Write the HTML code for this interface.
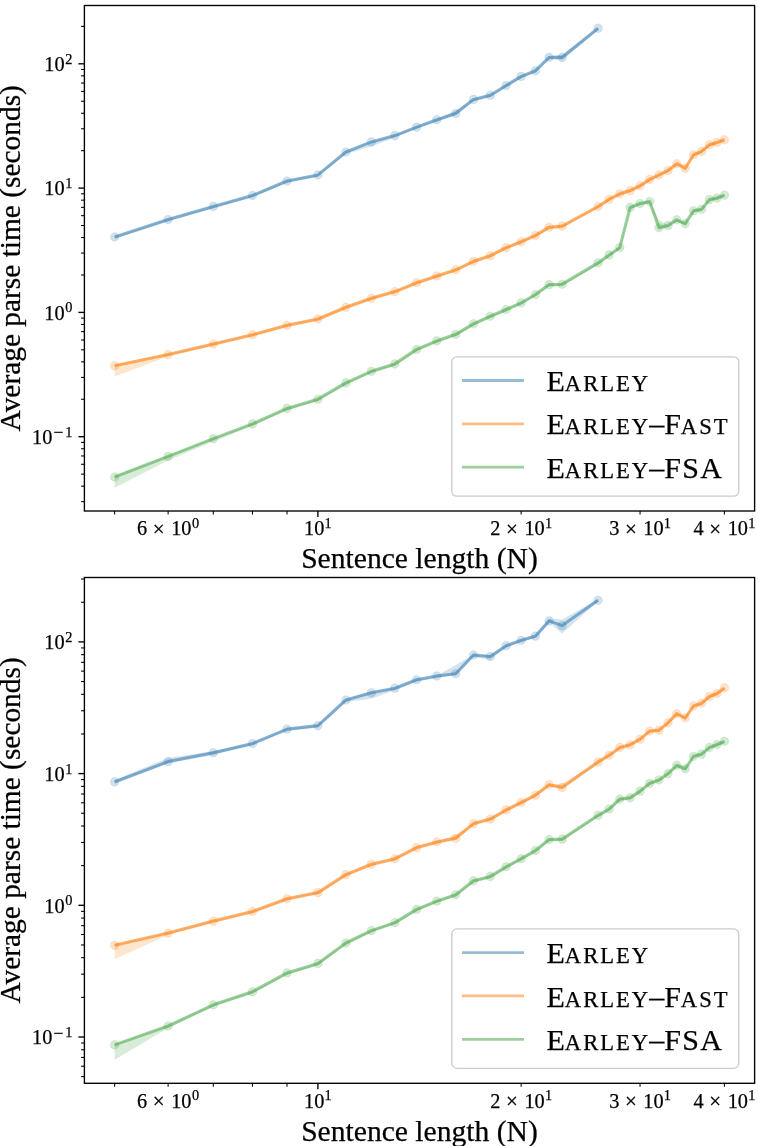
<!DOCTYPE html><html><head><meta charset="utf-8"><style>html,body{margin:0;padding:0;background:#fff;}svg{display:block;will-change:transform;font-family:"Liberation Serif",serif;}text{stroke:#000;stroke-width:0.25px;}</style></head><body>
<svg width="758" height="1146" viewBox="0 0 758 1146">
<rect x="0" y="0" width="758" height="1146" fill="#fff"/>
<clipPath id="c0"><rect x="84.4" y="5.5" width="670.2" height="505.5"/></clipPath>
<g clip-path="url(#c0)">
<polygon points="114.64,236.5 168.11,219 213.31,205.9 252.47,195 287,180.5 317.9,174.4 345.85,151.5 371.36,141.5 394.83,135.1 416.57,126.6 436.8,119.2 455.72,110.5 473.5,98.9 490.26,94.7 506.11,85 521.16,75.9 535.46,70.2 549.1,56.8 562.14,54.5 598.09,27.7 598.09,30.2 562.14,60.5 549.1,59.3 535.46,72.7 521.16,78.4 506.11,87.5 490.26,97.2 473.5,101.4 455.72,115 436.8,121.7 416.57,129.1 394.83,137.6 371.36,146.4 345.85,154 317.9,176.9 287,183 252.47,197.5 213.31,208.4 168.11,221.5 114.64,239" fill="#3079ae" fill-opacity="0.2" stroke="none"/>
<circle cx="114.64" cy="237" r="4.3" fill="#3079ae" fill-opacity="0.22" stroke="#3079ae" stroke-opacity="0.12" stroke-width="1"/>
<circle cx="168.11" cy="219.5" r="4.3" fill="#3079ae" fill-opacity="0.22" stroke="#3079ae" stroke-opacity="0.12" stroke-width="1"/>
<circle cx="213.31" cy="206.4" r="4.3" fill="#3079ae" fill-opacity="0.22" stroke="#3079ae" stroke-opacity="0.12" stroke-width="1"/>
<circle cx="252.47" cy="195.5" r="4.3" fill="#3079ae" fill-opacity="0.22" stroke="#3079ae" stroke-opacity="0.12" stroke-width="1"/>
<circle cx="287" cy="181" r="4.3" fill="#3079ae" fill-opacity="0.22" stroke="#3079ae" stroke-opacity="0.12" stroke-width="1"/>
<circle cx="317.9" cy="174.9" r="4.3" fill="#3079ae" fill-opacity="0.22" stroke="#3079ae" stroke-opacity="0.12" stroke-width="1"/>
<circle cx="345.85" cy="152" r="4.3" fill="#3079ae" fill-opacity="0.22" stroke="#3079ae" stroke-opacity="0.12" stroke-width="1"/>
<circle cx="371.36" cy="141.9" r="4.3" fill="#3079ae" fill-opacity="0.22" stroke="#3079ae" stroke-opacity="0.12" stroke-width="1"/>
<circle cx="394.83" cy="135.6" r="4.3" fill="#3079ae" fill-opacity="0.22" stroke="#3079ae" stroke-opacity="0.12" stroke-width="1"/>
<circle cx="416.57" cy="127.1" r="4.3" fill="#3079ae" fill-opacity="0.22" stroke="#3079ae" stroke-opacity="0.12" stroke-width="1"/>
<circle cx="436.8" cy="119.7" r="4.3" fill="#3079ae" fill-opacity="0.22" stroke="#3079ae" stroke-opacity="0.12" stroke-width="1"/>
<circle cx="455.72" cy="113.5" r="4.3" fill="#3079ae" fill-opacity="0.22" stroke="#3079ae" stroke-opacity="0.12" stroke-width="1"/>
<circle cx="473.5" cy="99.4" r="4.3" fill="#3079ae" fill-opacity="0.22" stroke="#3079ae" stroke-opacity="0.12" stroke-width="1"/>
<circle cx="490.26" cy="95.2" r="4.3" fill="#3079ae" fill-opacity="0.22" stroke="#3079ae" stroke-opacity="0.12" stroke-width="1"/>
<circle cx="506.11" cy="85.5" r="4.3" fill="#3079ae" fill-opacity="0.22" stroke="#3079ae" stroke-opacity="0.12" stroke-width="1"/>
<circle cx="521.16" cy="76.4" r="4.3" fill="#3079ae" fill-opacity="0.22" stroke="#3079ae" stroke-opacity="0.12" stroke-width="1"/>
<circle cx="535.46" cy="70.7" r="4.3" fill="#3079ae" fill-opacity="0.22" stroke="#3079ae" stroke-opacity="0.12" stroke-width="1"/>
<circle cx="549.1" cy="57.3" r="4.3" fill="#3079ae" fill-opacity="0.22" stroke="#3079ae" stroke-opacity="0.12" stroke-width="1"/>
<circle cx="562.14" cy="57.4" r="4.3" fill="#3079ae" fill-opacity="0.22" stroke="#3079ae" stroke-opacity="0.12" stroke-width="1"/>
<circle cx="598.09" cy="28.2" r="4.3" fill="#3079ae" fill-opacity="0.22" stroke="#3079ae" stroke-opacity="0.12" stroke-width="1"/>
<polyline points="114.64,237 168.11,219.5 213.31,206.4 252.47,195.5 287,181 317.9,174.9 345.85,152 371.36,141.9 394.83,135.6 416.57,127.1 436.8,119.7 455.72,113.5 473.5,99.4 490.26,95.2 506.11,85.5 521.16,76.4 535.46,70.7 549.1,57.3 562.14,57.4 598.09,28.2" fill="none" stroke="#3079ae" stroke-opacity="0.56" stroke-width="3.1" stroke-linejoin="round" stroke-linecap="butt"/>
<polygon points="114.64,365 168.11,354.1 213.31,343.5 252.47,334.3 287,324.7 317.9,318.5 345.85,306.7 371.36,297.7 394.83,291.1 416.57,282.2 436.8,275.5 455.72,269.3 473.5,260.8 490.26,255.2 506.11,247.1 521.16,241.2 535.46,234.9 549.1,226.7 562.14,225.6 598.09,206 609.16,198.7 619.82,193.3 630.11,190.1 640.05,185.2 649.67,178.9 658.98,174.4 668,170 676.75,163.2 685.25,167.7 693.52,154.3 701.55,150.9 709.37,144.2 716.99,141.9 724.41,139.2 724.41,141.7 716.99,144.4 709.37,146.7 701.55,153.4 693.52,156.8 685.25,170.2 676.75,165.7 668,172.5 658.98,176.9 649.67,181.4 640.05,187.7 630.11,192.6 619.82,195.8 609.16,201.2 598.09,208.5 562.14,228.1 549.1,229.2 535.46,237.4 521.16,243.7 506.11,249.6 490.26,257.7 473.5,263.3 455.72,271.8 436.8,278 416.57,284.7 394.83,293.6 371.36,300.2 345.85,309.2 317.9,321 287,327.2 252.47,336.8 213.31,346 168.11,356.6 114.64,376.5" fill="#fb7d0c" fill-opacity="0.2" stroke="none"/>
<circle cx="114.64" cy="365.8" r="4.3" fill="#fb7d0c" fill-opacity="0.22" stroke="#fb7d0c" stroke-opacity="0.12" stroke-width="1"/>
<circle cx="168.11" cy="354.6" r="4.3" fill="#fb7d0c" fill-opacity="0.22" stroke="#fb7d0c" stroke-opacity="0.12" stroke-width="1"/>
<circle cx="213.31" cy="344" r="4.3" fill="#fb7d0c" fill-opacity="0.22" stroke="#fb7d0c" stroke-opacity="0.12" stroke-width="1"/>
<circle cx="252.47" cy="334.8" r="4.3" fill="#fb7d0c" fill-opacity="0.22" stroke="#fb7d0c" stroke-opacity="0.12" stroke-width="1"/>
<circle cx="287" cy="325.2" r="4.3" fill="#fb7d0c" fill-opacity="0.22" stroke="#fb7d0c" stroke-opacity="0.12" stroke-width="1"/>
<circle cx="317.9" cy="319" r="4.3" fill="#fb7d0c" fill-opacity="0.22" stroke="#fb7d0c" stroke-opacity="0.12" stroke-width="1"/>
<circle cx="345.85" cy="307.2" r="4.3" fill="#fb7d0c" fill-opacity="0.22" stroke="#fb7d0c" stroke-opacity="0.12" stroke-width="1"/>
<circle cx="371.36" cy="298.2" r="4.3" fill="#fb7d0c" fill-opacity="0.22" stroke="#fb7d0c" stroke-opacity="0.12" stroke-width="1"/>
<circle cx="394.83" cy="291.6" r="4.3" fill="#fb7d0c" fill-opacity="0.22" stroke="#fb7d0c" stroke-opacity="0.12" stroke-width="1"/>
<circle cx="416.57" cy="282.7" r="4.3" fill="#fb7d0c" fill-opacity="0.22" stroke="#fb7d0c" stroke-opacity="0.12" stroke-width="1"/>
<circle cx="436.8" cy="276" r="4.3" fill="#fb7d0c" fill-opacity="0.22" stroke="#fb7d0c" stroke-opacity="0.12" stroke-width="1"/>
<circle cx="455.72" cy="269.8" r="4.3" fill="#fb7d0c" fill-opacity="0.22" stroke="#fb7d0c" stroke-opacity="0.12" stroke-width="1"/>
<circle cx="473.5" cy="261.3" r="4.3" fill="#fb7d0c" fill-opacity="0.22" stroke="#fb7d0c" stroke-opacity="0.12" stroke-width="1"/>
<circle cx="490.26" cy="255.7" r="4.3" fill="#fb7d0c" fill-opacity="0.22" stroke="#fb7d0c" stroke-opacity="0.12" stroke-width="1"/>
<circle cx="506.11" cy="247.6" r="4.3" fill="#fb7d0c" fill-opacity="0.22" stroke="#fb7d0c" stroke-opacity="0.12" stroke-width="1"/>
<circle cx="521.16" cy="241.7" r="4.3" fill="#fb7d0c" fill-opacity="0.22" stroke="#fb7d0c" stroke-opacity="0.12" stroke-width="1"/>
<circle cx="535.46" cy="235.4" r="4.3" fill="#fb7d0c" fill-opacity="0.22" stroke="#fb7d0c" stroke-opacity="0.12" stroke-width="1"/>
<circle cx="549.1" cy="227.2" r="4.3" fill="#fb7d0c" fill-opacity="0.22" stroke="#fb7d0c" stroke-opacity="0.12" stroke-width="1"/>
<circle cx="562.14" cy="226.1" r="4.3" fill="#fb7d0c" fill-opacity="0.22" stroke="#fb7d0c" stroke-opacity="0.12" stroke-width="1"/>
<circle cx="598.09" cy="206.5" r="4.3" fill="#fb7d0c" fill-opacity="0.22" stroke="#fb7d0c" stroke-opacity="0.12" stroke-width="1"/>
<circle cx="609.16" cy="199.2" r="4.3" fill="#fb7d0c" fill-opacity="0.22" stroke="#fb7d0c" stroke-opacity="0.12" stroke-width="1"/>
<circle cx="619.82" cy="193.8" r="4.3" fill="#fb7d0c" fill-opacity="0.22" stroke="#fb7d0c" stroke-opacity="0.12" stroke-width="1"/>
<circle cx="630.11" cy="190.6" r="4.3" fill="#fb7d0c" fill-opacity="0.22" stroke="#fb7d0c" stroke-opacity="0.12" stroke-width="1"/>
<circle cx="640.05" cy="185.7" r="4.3" fill="#fb7d0c" fill-opacity="0.22" stroke="#fb7d0c" stroke-opacity="0.12" stroke-width="1"/>
<circle cx="649.67" cy="179.4" r="4.3" fill="#fb7d0c" fill-opacity="0.22" stroke="#fb7d0c" stroke-opacity="0.12" stroke-width="1"/>
<circle cx="658.98" cy="174.9" r="4.3" fill="#fb7d0c" fill-opacity="0.22" stroke="#fb7d0c" stroke-opacity="0.12" stroke-width="1"/>
<circle cx="668" cy="170.5" r="4.3" fill="#fb7d0c" fill-opacity="0.22" stroke="#fb7d0c" stroke-opacity="0.12" stroke-width="1"/>
<circle cx="676.75" cy="163.7" r="4.3" fill="#fb7d0c" fill-opacity="0.22" stroke="#fb7d0c" stroke-opacity="0.12" stroke-width="1"/>
<circle cx="685.25" cy="168.2" r="4.3" fill="#fb7d0c" fill-opacity="0.22" stroke="#fb7d0c" stroke-opacity="0.12" stroke-width="1"/>
<circle cx="693.52" cy="154.8" r="4.3" fill="#fb7d0c" fill-opacity="0.22" stroke="#fb7d0c" stroke-opacity="0.12" stroke-width="1"/>
<circle cx="701.55" cy="151.4" r="4.3" fill="#fb7d0c" fill-opacity="0.22" stroke="#fb7d0c" stroke-opacity="0.12" stroke-width="1"/>
<circle cx="709.37" cy="144.7" r="4.3" fill="#fb7d0c" fill-opacity="0.22" stroke="#fb7d0c" stroke-opacity="0.12" stroke-width="1"/>
<circle cx="716.99" cy="142.4" r="4.3" fill="#fb7d0c" fill-opacity="0.22" stroke="#fb7d0c" stroke-opacity="0.12" stroke-width="1"/>
<circle cx="724.41" cy="139.7" r="4.3" fill="#fb7d0c" fill-opacity="0.22" stroke="#fb7d0c" stroke-opacity="0.12" stroke-width="1"/>
<polyline points="114.64,365.8 168.11,354.6 213.31,344 252.47,334.8 287,325.2 317.9,319 345.85,307.2 371.36,298.2 394.83,291.6 416.57,282.7 436.8,276 455.72,269.8 473.5,261.3 490.26,255.7 506.11,247.6 521.16,241.7 535.46,235.4 549.1,227.2 562.14,226.1 598.09,206.5 609.16,199.2 619.82,193.8 630.11,190.6 640.05,185.7 649.67,179.4 658.98,174.9 668,170.5 676.75,163.7 685.25,168.2 693.52,154.8 701.55,151.4 709.37,144.7 716.99,142.4 724.41,139.7" fill="none" stroke="#fb7d0c" stroke-opacity="0.6" stroke-width="3.1" stroke-linejoin="round" stroke-linecap="butt"/>
<polygon points="114.64,476 168.11,455.5 213.31,438.3 252.47,423.4 287,407.9 317.9,398.7 345.85,382.4 371.36,370.8 394.83,363.4 416.57,348.9 436.8,340.4 455.72,333.8 473.5,323.3 490.26,315.7 506.11,309 521.16,302.3 535.46,294 549.1,284.1 562.14,283.7 598.09,262.4 609.16,254.4 619.82,247 630.11,206.9 640.05,203 649.67,201 658.98,220 668,224.9 676.75,219.3 685.25,223.1 693.52,210.3 701.55,208.8 709.37,199.1 716.99,197.5 724.41,194.6 724.41,197.1 716.99,200 709.37,201.6 701.55,211.3 693.52,212.8 685.25,225.6 676.75,221.8 668,227.4 658.98,229 649.67,203.5 640.05,205.5 630.11,209.4 619.82,249.5 609.16,256.9 598.09,264.9 562.14,286.2 549.1,286.6 535.46,296.5 521.16,304.8 506.11,311.5 490.26,318.2 473.5,325.8 455.72,336.3 436.8,342.9 416.57,351.4 394.83,365.9 371.36,373.3 345.85,384.9 317.9,401.2 287,410.4 252.47,425.9 213.31,441.5 168.11,460.4 114.64,487.8" fill="#3aa03b" fill-opacity="0.2" stroke="none"/>
<circle cx="114.64" cy="477" r="4.3" fill="#3aa03b" fill-opacity="0.22" stroke="#3aa03b" stroke-opacity="0.12" stroke-width="1"/>
<circle cx="168.11" cy="456.4" r="4.3" fill="#3aa03b" fill-opacity="0.22" stroke="#3aa03b" stroke-opacity="0.12" stroke-width="1"/>
<circle cx="213.31" cy="438.6" r="4.3" fill="#3aa03b" fill-opacity="0.22" stroke="#3aa03b" stroke-opacity="0.12" stroke-width="1"/>
<circle cx="252.47" cy="423.9" r="4.3" fill="#3aa03b" fill-opacity="0.22" stroke="#3aa03b" stroke-opacity="0.12" stroke-width="1"/>
<circle cx="287" cy="408.4" r="4.3" fill="#3aa03b" fill-opacity="0.22" stroke="#3aa03b" stroke-opacity="0.12" stroke-width="1"/>
<circle cx="317.9" cy="399.2" r="4.3" fill="#3aa03b" fill-opacity="0.22" stroke="#3aa03b" stroke-opacity="0.12" stroke-width="1"/>
<circle cx="345.85" cy="382.9" r="4.3" fill="#3aa03b" fill-opacity="0.22" stroke="#3aa03b" stroke-opacity="0.12" stroke-width="1"/>
<circle cx="371.36" cy="371.3" r="4.3" fill="#3aa03b" fill-opacity="0.22" stroke="#3aa03b" stroke-opacity="0.12" stroke-width="1"/>
<circle cx="394.83" cy="363.9" r="4.3" fill="#3aa03b" fill-opacity="0.22" stroke="#3aa03b" stroke-opacity="0.12" stroke-width="1"/>
<circle cx="416.57" cy="349.4" r="4.3" fill="#3aa03b" fill-opacity="0.22" stroke="#3aa03b" stroke-opacity="0.12" stroke-width="1"/>
<circle cx="436.8" cy="340.9" r="4.3" fill="#3aa03b" fill-opacity="0.22" stroke="#3aa03b" stroke-opacity="0.12" stroke-width="1"/>
<circle cx="455.72" cy="334.3" r="4.3" fill="#3aa03b" fill-opacity="0.22" stroke="#3aa03b" stroke-opacity="0.12" stroke-width="1"/>
<circle cx="473.5" cy="323.8" r="4.3" fill="#3aa03b" fill-opacity="0.22" stroke="#3aa03b" stroke-opacity="0.12" stroke-width="1"/>
<circle cx="490.26" cy="316.2" r="4.3" fill="#3aa03b" fill-opacity="0.22" stroke="#3aa03b" stroke-opacity="0.12" stroke-width="1"/>
<circle cx="506.11" cy="309.5" r="4.3" fill="#3aa03b" fill-opacity="0.22" stroke="#3aa03b" stroke-opacity="0.12" stroke-width="1"/>
<circle cx="521.16" cy="302.8" r="4.3" fill="#3aa03b" fill-opacity="0.22" stroke="#3aa03b" stroke-opacity="0.12" stroke-width="1"/>
<circle cx="535.46" cy="294.5" r="4.3" fill="#3aa03b" fill-opacity="0.22" stroke="#3aa03b" stroke-opacity="0.12" stroke-width="1"/>
<circle cx="549.1" cy="284.6" r="4.3" fill="#3aa03b" fill-opacity="0.22" stroke="#3aa03b" stroke-opacity="0.12" stroke-width="1"/>
<circle cx="562.14" cy="284.2" r="4.3" fill="#3aa03b" fill-opacity="0.22" stroke="#3aa03b" stroke-opacity="0.12" stroke-width="1"/>
<circle cx="598.09" cy="262.9" r="4.3" fill="#3aa03b" fill-opacity="0.22" stroke="#3aa03b" stroke-opacity="0.12" stroke-width="1"/>
<circle cx="609.16" cy="254.9" r="4.3" fill="#3aa03b" fill-opacity="0.22" stroke="#3aa03b" stroke-opacity="0.12" stroke-width="1"/>
<circle cx="619.82" cy="247.5" r="4.3" fill="#3aa03b" fill-opacity="0.22" stroke="#3aa03b" stroke-opacity="0.12" stroke-width="1"/>
<circle cx="630.11" cy="207.4" r="4.3" fill="#3aa03b" fill-opacity="0.22" stroke="#3aa03b" stroke-opacity="0.12" stroke-width="1"/>
<circle cx="640.05" cy="203.5" r="4.3" fill="#3aa03b" fill-opacity="0.22" stroke="#3aa03b" stroke-opacity="0.12" stroke-width="1"/>
<circle cx="649.67" cy="201.5" r="4.3" fill="#3aa03b" fill-opacity="0.22" stroke="#3aa03b" stroke-opacity="0.12" stroke-width="1"/>
<circle cx="658.98" cy="227.8" r="4.3" fill="#3aa03b" fill-opacity="0.22" stroke="#3aa03b" stroke-opacity="0.12" stroke-width="1"/>
<circle cx="668" cy="225.4" r="4.3" fill="#3aa03b" fill-opacity="0.22" stroke="#3aa03b" stroke-opacity="0.12" stroke-width="1"/>
<circle cx="676.75" cy="219.8" r="4.3" fill="#3aa03b" fill-opacity="0.22" stroke="#3aa03b" stroke-opacity="0.12" stroke-width="1"/>
<circle cx="685.25" cy="223.6" r="4.3" fill="#3aa03b" fill-opacity="0.22" stroke="#3aa03b" stroke-opacity="0.12" stroke-width="1"/>
<circle cx="693.52" cy="210.8" r="4.3" fill="#3aa03b" fill-opacity="0.22" stroke="#3aa03b" stroke-opacity="0.12" stroke-width="1"/>
<circle cx="701.55" cy="209.3" r="4.3" fill="#3aa03b" fill-opacity="0.22" stroke="#3aa03b" stroke-opacity="0.12" stroke-width="1"/>
<circle cx="709.37" cy="199.6" r="4.3" fill="#3aa03b" fill-opacity="0.22" stroke="#3aa03b" stroke-opacity="0.12" stroke-width="1"/>
<circle cx="716.99" cy="198" r="4.3" fill="#3aa03b" fill-opacity="0.22" stroke="#3aa03b" stroke-opacity="0.12" stroke-width="1"/>
<circle cx="724.41" cy="195.1" r="4.3" fill="#3aa03b" fill-opacity="0.22" stroke="#3aa03b" stroke-opacity="0.12" stroke-width="1"/>
<polyline points="114.64,477 168.11,456.4 213.31,438.6 252.47,423.9 287,408.4 317.9,399.2 345.85,382.9 371.36,371.3 394.83,363.9 416.57,349.4 436.8,340.9 455.72,334.3 473.5,323.8 490.26,316.2 506.11,309.5 521.16,302.8 535.46,294.5 549.1,284.6 562.14,284.2 598.09,262.9 609.16,254.9 619.82,247.5 630.11,207.4 640.05,203.5 649.67,201.5 658.98,227.8 668,225.4 676.75,219.8 685.25,223.6 693.52,210.8 701.55,209.3 709.37,199.6 716.99,198 724.41,195.1" fill="none" stroke="#3aa03b" stroke-opacity="0.5" stroke-width="3.1" stroke-linejoin="round" stroke-linecap="butt"/>
</g>
<rect x="451.8" y="356.8" width="286.99999999999994" height="139.39999999999998" rx="5" ry="5" fill="#fff" fill-opacity="0.8" stroke="#cccccc" stroke-width="1.3"/>
<line x1="462" y1="380.5" x2="524" y2="380.5" stroke="#3079ae" stroke-opacity="0.5" stroke-width="2.8"/>
<text x="546.5" y="390.8" font-size="30"><tspan>E</tspan><tspan font-size="22.6" letter-spacing="2.0">ARLEY</tspan></text>
<line x1="462" y1="423.85" x2="524" y2="423.85" stroke="#fb7d0c" stroke-opacity="0.5" stroke-width="2.8"/>
<text x="546.5" y="434.4" font-size="30"><tspan>E</tspan><tspan font-size="22.6" letter-spacing="2.0">ARLEY</tspan><tspan dx="-1">–</tspan><tspan>F</tspan><tspan font-size="22.6" letter-spacing="2.0" letter-spacing="2.6">AST</tspan></text>
<line x1="462" y1="467.2" x2="524" y2="467.2" stroke="#3aa03b" stroke-opacity="0.5" stroke-width="2.8"/>
<text x="546.5" y="478" font-size="30"><tspan>E</tspan><tspan font-size="22.6" letter-spacing="2.0">ARLEY</tspan><tspan dx="-1">–</tspan><tspan letter-spacing="1.4">FSA</tspan></text>
<rect x="84.4" y="5.5" width="670.2" height="505.5" fill="none" stroke="#000" stroke-width="1.35"/>
<line x1="114.64" y1="511.0" x2="114.64" y2="514.4" stroke="#000" stroke-width="1.05"/>
<line x1="168.11" y1="511.0" x2="168.11" y2="514.4" stroke="#000" stroke-width="1.05"/>
<line x1="213.31" y1="511.0" x2="213.31" y2="514.4" stroke="#000" stroke-width="1.05"/>
<line x1="252.47" y1="511.0" x2="252.47" y2="514.4" stroke="#000" stroke-width="1.05"/>
<line x1="287" y1="511.0" x2="287" y2="514.4" stroke="#000" stroke-width="1.05"/>
<line x1="521.16" y1="511.0" x2="521.16" y2="514.4" stroke="#000" stroke-width="1.05"/>
<line x1="640.05" y1="511.0" x2="640.05" y2="514.4" stroke="#000" stroke-width="1.05"/>
<line x1="724.41" y1="511.0" x2="724.41" y2="514.4" stroke="#000" stroke-width="1.05"/>
<line x1="317.9" y1="511.0" x2="317.9" y2="517" stroke="#000" stroke-width="1.35"/>
<line x1="81" y1="501.69" x2="84.4" y2="501.69" stroke="#000" stroke-width="1.05"/>
<line x1="81" y1="486.16" x2="84.4" y2="486.16" stroke="#000" stroke-width="1.05"/>
<line x1="81" y1="474.12" x2="84.4" y2="474.12" stroke="#000" stroke-width="1.05"/>
<line x1="81" y1="464.28" x2="84.4" y2="464.28" stroke="#000" stroke-width="1.05"/>
<line x1="81" y1="455.95" x2="84.4" y2="455.95" stroke="#000" stroke-width="1.05"/>
<line x1="81" y1="448.75" x2="84.4" y2="448.75" stroke="#000" stroke-width="1.05"/>
<line x1="81" y1="442.39" x2="84.4" y2="442.39" stroke="#000" stroke-width="1.05"/>
<line x1="78.4" y1="436.7" x2="84.4" y2="436.7" stroke="#000" stroke-width="1.35"/>
<line x1="81" y1="399.28" x2="84.4" y2="399.28" stroke="#000" stroke-width="1.05"/>
<line x1="81" y1="377.39" x2="84.4" y2="377.39" stroke="#000" stroke-width="1.05"/>
<line x1="81" y1="361.86" x2="84.4" y2="361.86" stroke="#000" stroke-width="1.05"/>
<line x1="81" y1="349.82" x2="84.4" y2="349.82" stroke="#000" stroke-width="1.05"/>
<line x1="81" y1="339.98" x2="84.4" y2="339.98" stroke="#000" stroke-width="1.05"/>
<line x1="81" y1="331.65" x2="84.4" y2="331.65" stroke="#000" stroke-width="1.05"/>
<line x1="81" y1="324.45" x2="84.4" y2="324.45" stroke="#000" stroke-width="1.05"/>
<line x1="81" y1="318.09" x2="84.4" y2="318.09" stroke="#000" stroke-width="1.05"/>
<line x1="78.4" y1="312.4" x2="84.4" y2="312.4" stroke="#000" stroke-width="1.35"/>
<line x1="81" y1="274.98" x2="84.4" y2="274.98" stroke="#000" stroke-width="1.05"/>
<line x1="81" y1="253.09" x2="84.4" y2="253.09" stroke="#000" stroke-width="1.05"/>
<line x1="81" y1="237.56" x2="84.4" y2="237.56" stroke="#000" stroke-width="1.05"/>
<line x1="81" y1="225.52" x2="84.4" y2="225.52" stroke="#000" stroke-width="1.05"/>
<line x1="81" y1="215.68" x2="84.4" y2="215.68" stroke="#000" stroke-width="1.05"/>
<line x1="81" y1="207.35" x2="84.4" y2="207.35" stroke="#000" stroke-width="1.05"/>
<line x1="81" y1="200.15" x2="84.4" y2="200.15" stroke="#000" stroke-width="1.05"/>
<line x1="81" y1="193.79" x2="84.4" y2="193.79" stroke="#000" stroke-width="1.05"/>
<line x1="78.4" y1="188.1" x2="84.4" y2="188.1" stroke="#000" stroke-width="1.35"/>
<line x1="81" y1="150.68" x2="84.4" y2="150.68" stroke="#000" stroke-width="1.05"/>
<line x1="81" y1="128.79" x2="84.4" y2="128.79" stroke="#000" stroke-width="1.05"/>
<line x1="81" y1="113.26" x2="84.4" y2="113.26" stroke="#000" stroke-width="1.05"/>
<line x1="81" y1="101.22" x2="84.4" y2="101.22" stroke="#000" stroke-width="1.05"/>
<line x1="81" y1="91.38" x2="84.4" y2="91.38" stroke="#000" stroke-width="1.05"/>
<line x1="81" y1="83.05" x2="84.4" y2="83.05" stroke="#000" stroke-width="1.05"/>
<line x1="81" y1="75.85" x2="84.4" y2="75.85" stroke="#000" stroke-width="1.05"/>
<line x1="81" y1="69.49" x2="84.4" y2="69.49" stroke="#000" stroke-width="1.05"/>
<line x1="78.4" y1="63.8" x2="84.4" y2="63.8" stroke="#000" stroke-width="1.35"/>
<line x1="81" y1="26.38" x2="84.4" y2="26.38" stroke="#000" stroke-width="1.05"/>
<text x="72.3" y="444" font-size="20.3" text-anchor="end">10<tspan font-size="17.5" dy="-5.6" dx="1.2">−</tspan><tspan font-size="14.3" dx="1.8" dy="-1.8">1</tspan></text>
<text x="72.3" y="319.7" font-size="20.3" text-anchor="end">10<tspan font-size="14.3" dy="-7.4" dx="0.6">0</tspan></text>
<text x="72.3" y="195.4" font-size="20.3" text-anchor="end">10<tspan font-size="14.3" dy="-7.4" dx="0.6">1</tspan></text>
<text x="72.3" y="71.1" font-size="20.3" text-anchor="end">10<tspan font-size="14.3" dy="-7.4" dx="0.6">2</tspan></text>
<text x="168.11" y="535.2" font-size="20.3" text-anchor="middle">6<tspan dx="5.6" font-size="21" dy="0.6">×</tspan><tspan dx="6.6" dy="-0.6">10</tspan><tspan font-size="14.3" dy="-7.4" dx="0.6">0</tspan></text>
<text x="317.9" y="535.2" font-size="20.3" text-anchor="middle">10<tspan font-size="14.3" dy="-7.4" dx="0.2">1</tspan></text>
<text x="521.16" y="535.2" font-size="20.3" text-anchor="middle">2<tspan dx="5.6" font-size="21" dy="0.6">×</tspan><tspan dx="6.6" dy="-0.6">10</tspan><tspan font-size="14.3" dy="-7.4" dx="0.2">1</tspan></text>
<text x="640.05" y="535.2" font-size="20.3" text-anchor="middle">3<tspan dx="5.6" font-size="21" dy="0.6">×</tspan><tspan dx="6.6" dy="-0.6">10</tspan><tspan font-size="14.3" dy="-7.4" dx="0.2">1</tspan></text>
<text x="724.41" y="535.2" font-size="20.3" text-anchor="middle">4<tspan dx="5.6" font-size="21" dy="0.6">×</tspan><tspan dx="6.6" dy="-0.6">10</tspan><tspan font-size="14.3" dy="-7.4" dx="0.2">1</tspan></text>
<text x="419.5" y="568.3" font-size="29.6" text-anchor="middle">Sentence length (N)</text>
<text transform="translate(19.8,258.25) rotate(-90)" x="0" y="0" font-size="29.4" text-anchor="middle">Average parse time (seconds)</text>
<clipPath id="c1"><rect x="84.4" y="577.5" width="670.2" height="505.79999999999995"/></clipPath>
<g clip-path="url(#c1)">
<polygon points="114.64,780 168.11,758 213.31,751 252.47,743 287,728.6 317.9,725.1 345.85,699.5 371.36,691.5 394.83,687.7 416.57,679.2 436.8,675.5 455.72,665 473.5,654.5 490.26,655 506.11,645.2 521.16,639.8 535.46,635.6 549.1,618.5 562.14,619.6 598.09,599 598.09,601.5 562.14,633.4 549.1,622.5 535.46,638.1 521.16,642.3 506.11,647.7 490.26,659.8 473.5,657 455.72,675 436.8,678 416.57,681.7 394.83,690.2 371.36,698.8 345.85,702 317.9,727.6 287,731.1 252.47,745.5 213.31,755 168.11,763.5 114.64,784" fill="#3079ae" fill-opacity="0.2" stroke="none"/>
<circle cx="114.64" cy="781.9" r="4.3" fill="#3079ae" fill-opacity="0.22" stroke="#3079ae" stroke-opacity="0.12" stroke-width="1"/>
<circle cx="168.11" cy="761.6" r="4.3" fill="#3079ae" fill-opacity="0.22" stroke="#3079ae" stroke-opacity="0.12" stroke-width="1"/>
<circle cx="213.31" cy="752.7" r="4.3" fill="#3079ae" fill-opacity="0.22" stroke="#3079ae" stroke-opacity="0.12" stroke-width="1"/>
<circle cx="252.47" cy="743.5" r="4.3" fill="#3079ae" fill-opacity="0.22" stroke="#3079ae" stroke-opacity="0.12" stroke-width="1"/>
<circle cx="287" cy="729.1" r="4.3" fill="#3079ae" fill-opacity="0.22" stroke="#3079ae" stroke-opacity="0.12" stroke-width="1"/>
<circle cx="317.9" cy="725.6" r="4.3" fill="#3079ae" fill-opacity="0.22" stroke="#3079ae" stroke-opacity="0.12" stroke-width="1"/>
<circle cx="345.85" cy="700" r="4.3" fill="#3079ae" fill-opacity="0.22" stroke="#3079ae" stroke-opacity="0.12" stroke-width="1"/>
<circle cx="371.36" cy="692.7" r="4.3" fill="#3079ae" fill-opacity="0.22" stroke="#3079ae" stroke-opacity="0.12" stroke-width="1"/>
<circle cx="394.83" cy="688.2" r="4.3" fill="#3079ae" fill-opacity="0.22" stroke="#3079ae" stroke-opacity="0.12" stroke-width="1"/>
<circle cx="416.57" cy="679.7" r="4.3" fill="#3079ae" fill-opacity="0.22" stroke="#3079ae" stroke-opacity="0.12" stroke-width="1"/>
<circle cx="436.8" cy="676" r="4.3" fill="#3079ae" fill-opacity="0.22" stroke="#3079ae" stroke-opacity="0.12" stroke-width="1"/>
<circle cx="455.72" cy="673.8" r="4.3" fill="#3079ae" fill-opacity="0.22" stroke="#3079ae" stroke-opacity="0.12" stroke-width="1"/>
<circle cx="473.5" cy="655" r="4.3" fill="#3079ae" fill-opacity="0.22" stroke="#3079ae" stroke-opacity="0.12" stroke-width="1"/>
<circle cx="490.26" cy="656.5" r="4.3" fill="#3079ae" fill-opacity="0.22" stroke="#3079ae" stroke-opacity="0.12" stroke-width="1"/>
<circle cx="506.11" cy="645.7" r="4.3" fill="#3079ae" fill-opacity="0.22" stroke="#3079ae" stroke-opacity="0.12" stroke-width="1"/>
<circle cx="521.16" cy="640.3" r="4.3" fill="#3079ae" fill-opacity="0.22" stroke="#3079ae" stroke-opacity="0.12" stroke-width="1"/>
<circle cx="535.46" cy="636.1" r="4.3" fill="#3079ae" fill-opacity="0.22" stroke="#3079ae" stroke-opacity="0.12" stroke-width="1"/>
<circle cx="549.1" cy="620.9" r="4.3" fill="#3079ae" fill-opacity="0.22" stroke="#3079ae" stroke-opacity="0.12" stroke-width="1"/>
<circle cx="562.14" cy="625.6" r="4.3" fill="#3079ae" fill-opacity="0.22" stroke="#3079ae" stroke-opacity="0.12" stroke-width="1"/>
<circle cx="598.09" cy="600.3" r="4.3" fill="#3079ae" fill-opacity="0.22" stroke="#3079ae" stroke-opacity="0.12" stroke-width="1"/>
<polyline points="114.64,781.9 168.11,761.6 213.31,752.7 252.47,743.5 287,729.1 317.9,725.6 345.85,700 371.36,692.7 394.83,688.2 416.57,679.7 436.8,676 455.72,673.8 473.5,655 490.26,656.5 506.11,645.7 521.16,640.3 535.46,636.1 549.1,620.9 562.14,625.6 598.09,600.3" fill="none" stroke="#3079ae" stroke-opacity="0.56" stroke-width="3.1" stroke-linejoin="round" stroke-linecap="butt"/>
<polygon points="114.64,944.5 168.11,932.6 213.31,920.6 252.47,911 287,898.3 317.9,892.1 345.85,874.1 371.36,863.7 394.83,858.2 416.57,847.1 436.8,841.5 455.72,834.7 473.5,823.1 490.26,818.6 506.11,809.4 521.16,802 535.46,794.6 549.1,784.3 562.14,783.8 598.09,761.4 609.16,754.7 619.82,746.9 630.11,744.2 640.05,738.6 649.67,730.5 658.98,729.6 668,722.2 676.75,713.2 685.25,717.3 693.52,705.4 701.55,702.7 709.37,696 716.99,693 724.41,687.4 724.41,689.9 716.99,695.5 709.37,698.5 701.55,705.2 693.52,707.9 685.25,719.8 676.75,715.7 668,724.7 658.98,732.1 649.67,733 640.05,741.1 630.11,746.7 619.82,749.4 609.16,757.2 598.09,763.9 562.14,788.5 549.1,786.8 535.46,797.1 521.16,804.5 506.11,811.9 490.26,821.1 473.5,825.6 455.72,839.5 436.8,844 416.57,849.6 394.83,860.7 371.36,866.2 345.85,876.6 317.9,894.6 287,900.8 252.47,913.5 213.31,923.1 168.11,935.1 114.64,959" fill="#fb7d0c" fill-opacity="0.2" stroke="none"/>
<circle cx="114.64" cy="945.2" r="4.3" fill="#fb7d0c" fill-opacity="0.22" stroke="#fb7d0c" stroke-opacity="0.12" stroke-width="1"/>
<circle cx="168.11" cy="933.1" r="4.3" fill="#fb7d0c" fill-opacity="0.22" stroke="#fb7d0c" stroke-opacity="0.12" stroke-width="1"/>
<circle cx="213.31" cy="921.1" r="4.3" fill="#fb7d0c" fill-opacity="0.22" stroke="#fb7d0c" stroke-opacity="0.12" stroke-width="1"/>
<circle cx="252.47" cy="911.5" r="4.3" fill="#fb7d0c" fill-opacity="0.22" stroke="#fb7d0c" stroke-opacity="0.12" stroke-width="1"/>
<circle cx="287" cy="898.8" r="4.3" fill="#fb7d0c" fill-opacity="0.22" stroke="#fb7d0c" stroke-opacity="0.12" stroke-width="1"/>
<circle cx="317.9" cy="892.6" r="4.3" fill="#fb7d0c" fill-opacity="0.22" stroke="#fb7d0c" stroke-opacity="0.12" stroke-width="1"/>
<circle cx="345.85" cy="874.6" r="4.3" fill="#fb7d0c" fill-opacity="0.22" stroke="#fb7d0c" stroke-opacity="0.12" stroke-width="1"/>
<circle cx="371.36" cy="864.2" r="4.3" fill="#fb7d0c" fill-opacity="0.22" stroke="#fb7d0c" stroke-opacity="0.12" stroke-width="1"/>
<circle cx="394.83" cy="858.7" r="4.3" fill="#fb7d0c" fill-opacity="0.22" stroke="#fb7d0c" stroke-opacity="0.12" stroke-width="1"/>
<circle cx="416.57" cy="847.6" r="4.3" fill="#fb7d0c" fill-opacity="0.22" stroke="#fb7d0c" stroke-opacity="0.12" stroke-width="1"/>
<circle cx="436.8" cy="842" r="4.3" fill="#fb7d0c" fill-opacity="0.22" stroke="#fb7d0c" stroke-opacity="0.12" stroke-width="1"/>
<circle cx="455.72" cy="838.3" r="4.3" fill="#fb7d0c" fill-opacity="0.22" stroke="#fb7d0c" stroke-opacity="0.12" stroke-width="1"/>
<circle cx="473.5" cy="823.6" r="4.3" fill="#fb7d0c" fill-opacity="0.22" stroke="#fb7d0c" stroke-opacity="0.12" stroke-width="1"/>
<circle cx="490.26" cy="819.1" r="4.3" fill="#fb7d0c" fill-opacity="0.22" stroke="#fb7d0c" stroke-opacity="0.12" stroke-width="1"/>
<circle cx="506.11" cy="809.9" r="4.3" fill="#fb7d0c" fill-opacity="0.22" stroke="#fb7d0c" stroke-opacity="0.12" stroke-width="1"/>
<circle cx="521.16" cy="802.5" r="4.3" fill="#fb7d0c" fill-opacity="0.22" stroke="#fb7d0c" stroke-opacity="0.12" stroke-width="1"/>
<circle cx="535.46" cy="795.1" r="4.3" fill="#fb7d0c" fill-opacity="0.22" stroke="#fb7d0c" stroke-opacity="0.12" stroke-width="1"/>
<circle cx="549.1" cy="784.8" r="4.3" fill="#fb7d0c" fill-opacity="0.22" stroke="#fb7d0c" stroke-opacity="0.12" stroke-width="1"/>
<circle cx="562.14" cy="787.4" r="4.3" fill="#fb7d0c" fill-opacity="0.22" stroke="#fb7d0c" stroke-opacity="0.12" stroke-width="1"/>
<circle cx="598.09" cy="761.9" r="4.3" fill="#fb7d0c" fill-opacity="0.22" stroke="#fb7d0c" stroke-opacity="0.12" stroke-width="1"/>
<circle cx="609.16" cy="755.2" r="4.3" fill="#fb7d0c" fill-opacity="0.22" stroke="#fb7d0c" stroke-opacity="0.12" stroke-width="1"/>
<circle cx="619.82" cy="747.4" r="4.3" fill="#fb7d0c" fill-opacity="0.22" stroke="#fb7d0c" stroke-opacity="0.12" stroke-width="1"/>
<circle cx="630.11" cy="744.7" r="4.3" fill="#fb7d0c" fill-opacity="0.22" stroke="#fb7d0c" stroke-opacity="0.12" stroke-width="1"/>
<circle cx="640.05" cy="739.1" r="4.3" fill="#fb7d0c" fill-opacity="0.22" stroke="#fb7d0c" stroke-opacity="0.12" stroke-width="1"/>
<circle cx="649.67" cy="731" r="4.3" fill="#fb7d0c" fill-opacity="0.22" stroke="#fb7d0c" stroke-opacity="0.12" stroke-width="1"/>
<circle cx="658.98" cy="730.1" r="4.3" fill="#fb7d0c" fill-opacity="0.22" stroke="#fb7d0c" stroke-opacity="0.12" stroke-width="1"/>
<circle cx="668" cy="722.7" r="4.3" fill="#fb7d0c" fill-opacity="0.22" stroke="#fb7d0c" stroke-opacity="0.12" stroke-width="1"/>
<circle cx="676.75" cy="713.7" r="4.3" fill="#fb7d0c" fill-opacity="0.22" stroke="#fb7d0c" stroke-opacity="0.12" stroke-width="1"/>
<circle cx="685.25" cy="717.8" r="4.3" fill="#fb7d0c" fill-opacity="0.22" stroke="#fb7d0c" stroke-opacity="0.12" stroke-width="1"/>
<circle cx="693.52" cy="705.9" r="4.3" fill="#fb7d0c" fill-opacity="0.22" stroke="#fb7d0c" stroke-opacity="0.12" stroke-width="1"/>
<circle cx="701.55" cy="703.2" r="4.3" fill="#fb7d0c" fill-opacity="0.22" stroke="#fb7d0c" stroke-opacity="0.12" stroke-width="1"/>
<circle cx="709.37" cy="696.5" r="4.3" fill="#fb7d0c" fill-opacity="0.22" stroke="#fb7d0c" stroke-opacity="0.12" stroke-width="1"/>
<circle cx="716.99" cy="693.5" r="4.3" fill="#fb7d0c" fill-opacity="0.22" stroke="#fb7d0c" stroke-opacity="0.12" stroke-width="1"/>
<circle cx="724.41" cy="687.9" r="4.3" fill="#fb7d0c" fill-opacity="0.22" stroke="#fb7d0c" stroke-opacity="0.12" stroke-width="1"/>
<polyline points="114.64,945.2 168.11,933.1 213.31,921.1 252.47,911.5 287,898.8 317.9,892.6 345.85,874.6 371.36,864.2 394.83,858.7 416.57,847.6 436.8,842 455.72,838.3 473.5,823.6 490.26,819.1 506.11,809.9 521.16,802.5 535.46,795.1 549.1,784.8 562.14,787.4 598.09,761.9 609.16,755.2 619.82,747.4 630.11,744.7 640.05,739.1 649.67,731 658.98,730.1 668,722.7 676.75,713.7 685.25,717.8 693.52,705.9 701.55,703.2 709.37,696.5 716.99,693.5 724.41,687.9" fill="none" stroke="#fb7d0c" stroke-opacity="0.6" stroke-width="3.1" stroke-linejoin="round" stroke-linecap="butt"/>
<polygon points="114.64,1044 168.11,1025.5 213.31,1004.3 252.47,991.2 287,972.4 317.9,962.9 345.85,942.5 371.36,930.1 394.83,922.1 416.57,908.9 436.8,900.6 455.72,894.2 473.5,880.3 490.26,875.9 506.11,866.3 521.16,858.2 535.46,850 549.1,839 562.14,838.6 598.09,814.8 609.16,808.5 619.82,798.5 630.11,797.3 640.05,790.6 649.67,782.8 658.98,779.4 668,773.1 676.75,764.8 685.25,768.2 693.52,755.8 701.55,753.6 709.37,746.9 716.99,744 724.41,740.8 724.41,743.3 716.99,746.5 709.37,749.4 701.55,756.1 693.52,758.3 685.25,770.7 676.75,767.3 668,775.6 658.98,781.9 649.67,785.3 640.05,793.1 630.11,799.8 619.82,801 609.16,811 598.09,817.3 562.14,841.1 549.1,841.5 535.46,852.5 521.16,860.7 506.11,868.8 490.26,878.4 473.5,882.8 455.72,896.7 436.8,903.1 416.57,911.4 394.83,924.6 371.36,932.6 345.85,945 317.9,965.4 287,974.9 252.47,993.7 213.31,1006.8 168.11,1028 114.64,1059.7" fill="#3aa03b" fill-opacity="0.2" stroke="none"/>
<circle cx="114.64" cy="1044.9" r="4.3" fill="#3aa03b" fill-opacity="0.22" stroke="#3aa03b" stroke-opacity="0.12" stroke-width="1"/>
<circle cx="168.11" cy="1026" r="4.3" fill="#3aa03b" fill-opacity="0.22" stroke="#3aa03b" stroke-opacity="0.12" stroke-width="1"/>
<circle cx="213.31" cy="1004.8" r="4.3" fill="#3aa03b" fill-opacity="0.22" stroke="#3aa03b" stroke-opacity="0.12" stroke-width="1"/>
<circle cx="252.47" cy="991.7" r="4.3" fill="#3aa03b" fill-opacity="0.22" stroke="#3aa03b" stroke-opacity="0.12" stroke-width="1"/>
<circle cx="287" cy="972.9" r="4.3" fill="#3aa03b" fill-opacity="0.22" stroke="#3aa03b" stroke-opacity="0.12" stroke-width="1"/>
<circle cx="317.9" cy="963.4" r="4.3" fill="#3aa03b" fill-opacity="0.22" stroke="#3aa03b" stroke-opacity="0.12" stroke-width="1"/>
<circle cx="345.85" cy="943" r="4.3" fill="#3aa03b" fill-opacity="0.22" stroke="#3aa03b" stroke-opacity="0.12" stroke-width="1"/>
<circle cx="371.36" cy="930.6" r="4.3" fill="#3aa03b" fill-opacity="0.22" stroke="#3aa03b" stroke-opacity="0.12" stroke-width="1"/>
<circle cx="394.83" cy="922.6" r="4.3" fill="#3aa03b" fill-opacity="0.22" stroke="#3aa03b" stroke-opacity="0.12" stroke-width="1"/>
<circle cx="416.57" cy="909.4" r="4.3" fill="#3aa03b" fill-opacity="0.22" stroke="#3aa03b" stroke-opacity="0.12" stroke-width="1"/>
<circle cx="436.8" cy="901.1" r="4.3" fill="#3aa03b" fill-opacity="0.22" stroke="#3aa03b" stroke-opacity="0.12" stroke-width="1"/>
<circle cx="455.72" cy="894.7" r="4.3" fill="#3aa03b" fill-opacity="0.22" stroke="#3aa03b" stroke-opacity="0.12" stroke-width="1"/>
<circle cx="473.5" cy="880.8" r="4.3" fill="#3aa03b" fill-opacity="0.22" stroke="#3aa03b" stroke-opacity="0.12" stroke-width="1"/>
<circle cx="490.26" cy="876.4" r="4.3" fill="#3aa03b" fill-opacity="0.22" stroke="#3aa03b" stroke-opacity="0.12" stroke-width="1"/>
<circle cx="506.11" cy="866.8" r="4.3" fill="#3aa03b" fill-opacity="0.22" stroke="#3aa03b" stroke-opacity="0.12" stroke-width="1"/>
<circle cx="521.16" cy="858.7" r="4.3" fill="#3aa03b" fill-opacity="0.22" stroke="#3aa03b" stroke-opacity="0.12" stroke-width="1"/>
<circle cx="535.46" cy="850.5" r="4.3" fill="#3aa03b" fill-opacity="0.22" stroke="#3aa03b" stroke-opacity="0.12" stroke-width="1"/>
<circle cx="549.1" cy="839.5" r="4.3" fill="#3aa03b" fill-opacity="0.22" stroke="#3aa03b" stroke-opacity="0.12" stroke-width="1"/>
<circle cx="562.14" cy="839.1" r="4.3" fill="#3aa03b" fill-opacity="0.22" stroke="#3aa03b" stroke-opacity="0.12" stroke-width="1"/>
<circle cx="598.09" cy="815.3" r="4.3" fill="#3aa03b" fill-opacity="0.22" stroke="#3aa03b" stroke-opacity="0.12" stroke-width="1"/>
<circle cx="609.16" cy="809" r="4.3" fill="#3aa03b" fill-opacity="0.22" stroke="#3aa03b" stroke-opacity="0.12" stroke-width="1"/>
<circle cx="619.82" cy="799" r="4.3" fill="#3aa03b" fill-opacity="0.22" stroke="#3aa03b" stroke-opacity="0.12" stroke-width="1"/>
<circle cx="630.11" cy="797.8" r="4.3" fill="#3aa03b" fill-opacity="0.22" stroke="#3aa03b" stroke-opacity="0.12" stroke-width="1"/>
<circle cx="640.05" cy="791.1" r="4.3" fill="#3aa03b" fill-opacity="0.22" stroke="#3aa03b" stroke-opacity="0.12" stroke-width="1"/>
<circle cx="649.67" cy="783.3" r="4.3" fill="#3aa03b" fill-opacity="0.22" stroke="#3aa03b" stroke-opacity="0.12" stroke-width="1"/>
<circle cx="658.98" cy="779.9" r="4.3" fill="#3aa03b" fill-opacity="0.22" stroke="#3aa03b" stroke-opacity="0.12" stroke-width="1"/>
<circle cx="668" cy="773.6" r="4.3" fill="#3aa03b" fill-opacity="0.22" stroke="#3aa03b" stroke-opacity="0.12" stroke-width="1"/>
<circle cx="676.75" cy="765.3" r="4.3" fill="#3aa03b" fill-opacity="0.22" stroke="#3aa03b" stroke-opacity="0.12" stroke-width="1"/>
<circle cx="685.25" cy="768.7" r="4.3" fill="#3aa03b" fill-opacity="0.22" stroke="#3aa03b" stroke-opacity="0.12" stroke-width="1"/>
<circle cx="693.52" cy="756.3" r="4.3" fill="#3aa03b" fill-opacity="0.22" stroke="#3aa03b" stroke-opacity="0.12" stroke-width="1"/>
<circle cx="701.55" cy="754.1" r="4.3" fill="#3aa03b" fill-opacity="0.22" stroke="#3aa03b" stroke-opacity="0.12" stroke-width="1"/>
<circle cx="709.37" cy="747.4" r="4.3" fill="#3aa03b" fill-opacity="0.22" stroke="#3aa03b" stroke-opacity="0.12" stroke-width="1"/>
<circle cx="716.99" cy="744.5" r="4.3" fill="#3aa03b" fill-opacity="0.22" stroke="#3aa03b" stroke-opacity="0.12" stroke-width="1"/>
<circle cx="724.41" cy="741.3" r="4.3" fill="#3aa03b" fill-opacity="0.22" stroke="#3aa03b" stroke-opacity="0.12" stroke-width="1"/>
<polyline points="114.64,1044.9 168.11,1026 213.31,1004.8 252.47,991.7 287,972.9 317.9,963.4 345.85,943 371.36,930.6 394.83,922.6 416.57,909.4 436.8,901.1 455.72,894.7 473.5,880.8 490.26,876.4 506.11,866.8 521.16,858.7 535.46,850.5 549.1,839.5 562.14,839.1 598.09,815.3 609.16,809 619.82,799 630.11,797.8 640.05,791.1 649.67,783.3 658.98,779.9 668,773.6 676.75,765.3 685.25,768.7 693.52,756.3 701.55,754.1 709.37,747.4 716.99,744.5 724.41,741.3" fill="none" stroke="#3aa03b" stroke-opacity="0.5" stroke-width="3.1" stroke-linejoin="round" stroke-linecap="butt"/>
</g>
<rect x="451.8" y="928.9" width="286.99999999999994" height="139.39999999999998" rx="5" ry="5" fill="#fff" fill-opacity="0.8" stroke="#cccccc" stroke-width="1.3"/>
<line x1="462" y1="952.6" x2="524" y2="952.6" stroke="#3079ae" stroke-opacity="0.5" stroke-width="2.8"/>
<text x="546.5" y="962.9" font-size="30"><tspan>E</tspan><tspan font-size="22.6" letter-spacing="2.0">ARLEY</tspan></text>
<line x1="462" y1="995.95" x2="524" y2="995.95" stroke="#fb7d0c" stroke-opacity="0.5" stroke-width="2.8"/>
<text x="546.5" y="1006.5" font-size="30"><tspan>E</tspan><tspan font-size="22.6" letter-spacing="2.0">ARLEY</tspan><tspan dx="-1">–</tspan><tspan>F</tspan><tspan font-size="22.6" letter-spacing="2.0" letter-spacing="2.6">AST</tspan></text>
<line x1="462" y1="1039.3" x2="524" y2="1039.3" stroke="#3aa03b" stroke-opacity="0.5" stroke-width="2.8"/>
<text x="546.5" y="1050.1" font-size="30"><tspan>E</tspan><tspan font-size="22.6" letter-spacing="2.0">ARLEY</tspan><tspan dx="-1">–</tspan><tspan letter-spacing="1.4">FSA</tspan></text>
<rect x="84.4" y="577.5" width="670.2" height="505.8" fill="none" stroke="#000" stroke-width="1.35"/>
<line x1="114.64" y1="1083.3" x2="114.64" y2="1086.7" stroke="#000" stroke-width="1.05"/>
<line x1="168.11" y1="1083.3" x2="168.11" y2="1086.7" stroke="#000" stroke-width="1.05"/>
<line x1="213.31" y1="1083.3" x2="213.31" y2="1086.7" stroke="#000" stroke-width="1.05"/>
<line x1="252.47" y1="1083.3" x2="252.47" y2="1086.7" stroke="#000" stroke-width="1.05"/>
<line x1="287" y1="1083.3" x2="287" y2="1086.7" stroke="#000" stroke-width="1.05"/>
<line x1="521.16" y1="1083.3" x2="521.16" y2="1086.7" stroke="#000" stroke-width="1.05"/>
<line x1="640.05" y1="1083.3" x2="640.05" y2="1086.7" stroke="#000" stroke-width="1.05"/>
<line x1="724.41" y1="1083.3" x2="724.41" y2="1086.7" stroke="#000" stroke-width="1.05"/>
<line x1="317.9" y1="1083.3" x2="317.9" y2="1089.3" stroke="#000" stroke-width="1.35"/>
<line x1="81" y1="1076.65" x2="84.4" y2="1076.65" stroke="#000" stroke-width="1.05"/>
<line x1="81" y1="1066.22" x2="84.4" y2="1066.22" stroke="#000" stroke-width="1.05"/>
<line x1="81" y1="1057.4" x2="84.4" y2="1057.4" stroke="#000" stroke-width="1.05"/>
<line x1="81" y1="1049.76" x2="84.4" y2="1049.76" stroke="#000" stroke-width="1.05"/>
<line x1="81" y1="1043.03" x2="84.4" y2="1043.03" stroke="#000" stroke-width="1.05"/>
<line x1="78.4" y1="1037" x2="84.4" y2="1037" stroke="#000" stroke-width="1.35"/>
<line x1="81" y1="997.35" x2="84.4" y2="997.35" stroke="#000" stroke-width="1.05"/>
<line x1="81" y1="974.16" x2="84.4" y2="974.16" stroke="#000" stroke-width="1.05"/>
<line x1="81" y1="957.71" x2="84.4" y2="957.71" stroke="#000" stroke-width="1.05"/>
<line x1="81" y1="944.95" x2="84.4" y2="944.95" stroke="#000" stroke-width="1.05"/>
<line x1="81" y1="934.52" x2="84.4" y2="934.52" stroke="#000" stroke-width="1.05"/>
<line x1="81" y1="925.7" x2="84.4" y2="925.7" stroke="#000" stroke-width="1.05"/>
<line x1="81" y1="918.06" x2="84.4" y2="918.06" stroke="#000" stroke-width="1.05"/>
<line x1="81" y1="911.33" x2="84.4" y2="911.33" stroke="#000" stroke-width="1.05"/>
<line x1="78.4" y1="905.3" x2="84.4" y2="905.3" stroke="#000" stroke-width="1.35"/>
<line x1="81" y1="865.65" x2="84.4" y2="865.65" stroke="#000" stroke-width="1.05"/>
<line x1="81" y1="842.46" x2="84.4" y2="842.46" stroke="#000" stroke-width="1.05"/>
<line x1="81" y1="826.01" x2="84.4" y2="826.01" stroke="#000" stroke-width="1.05"/>
<line x1="81" y1="813.25" x2="84.4" y2="813.25" stroke="#000" stroke-width="1.05"/>
<line x1="81" y1="802.82" x2="84.4" y2="802.82" stroke="#000" stroke-width="1.05"/>
<line x1="81" y1="794" x2="84.4" y2="794" stroke="#000" stroke-width="1.05"/>
<line x1="81" y1="786.36" x2="84.4" y2="786.36" stroke="#000" stroke-width="1.05"/>
<line x1="81" y1="779.63" x2="84.4" y2="779.63" stroke="#000" stroke-width="1.05"/>
<line x1="78.4" y1="773.6" x2="84.4" y2="773.6" stroke="#000" stroke-width="1.35"/>
<line x1="81" y1="733.95" x2="84.4" y2="733.95" stroke="#000" stroke-width="1.05"/>
<line x1="81" y1="710.76" x2="84.4" y2="710.76" stroke="#000" stroke-width="1.05"/>
<line x1="81" y1="694.31" x2="84.4" y2="694.31" stroke="#000" stroke-width="1.05"/>
<line x1="81" y1="681.55" x2="84.4" y2="681.55" stroke="#000" stroke-width="1.05"/>
<line x1="81" y1="671.12" x2="84.4" y2="671.12" stroke="#000" stroke-width="1.05"/>
<line x1="81" y1="662.3" x2="84.4" y2="662.3" stroke="#000" stroke-width="1.05"/>
<line x1="81" y1="654.66" x2="84.4" y2="654.66" stroke="#000" stroke-width="1.05"/>
<line x1="81" y1="647.93" x2="84.4" y2="647.93" stroke="#000" stroke-width="1.05"/>
<line x1="78.4" y1="641.9" x2="84.4" y2="641.9" stroke="#000" stroke-width="1.35"/>
<line x1="81" y1="602.25" x2="84.4" y2="602.25" stroke="#000" stroke-width="1.05"/>
<line x1="81" y1="579.06" x2="84.4" y2="579.06" stroke="#000" stroke-width="1.05"/>
<text x="72.3" y="1044.3" font-size="20.3" text-anchor="end">10<tspan font-size="17.5" dy="-5.6" dx="1.2">−</tspan><tspan font-size="14.3" dx="1.8" dy="-1.8">1</tspan></text>
<text x="72.3" y="912.6" font-size="20.3" text-anchor="end">10<tspan font-size="14.3" dy="-7.4" dx="0.6">0</tspan></text>
<text x="72.3" y="780.9" font-size="20.3" text-anchor="end">10<tspan font-size="14.3" dy="-7.4" dx="0.6">1</tspan></text>
<text x="72.3" y="649.2" font-size="20.3" text-anchor="end">10<tspan font-size="14.3" dy="-7.4" dx="0.6">2</tspan></text>
<text x="168.11" y="1107.5" font-size="20.3" text-anchor="middle">6<tspan dx="5.6" font-size="21" dy="0.6">×</tspan><tspan dx="6.6" dy="-0.6">10</tspan><tspan font-size="14.3" dy="-7.4" dx="0.6">0</tspan></text>
<text x="317.9" y="1107.5" font-size="20.3" text-anchor="middle">10<tspan font-size="14.3" dy="-7.4" dx="0.2">1</tspan></text>
<text x="521.16" y="1107.5" font-size="20.3" text-anchor="middle">2<tspan dx="5.6" font-size="21" dy="0.6">×</tspan><tspan dx="6.6" dy="-0.6">10</tspan><tspan font-size="14.3" dy="-7.4" dx="0.2">1</tspan></text>
<text x="640.05" y="1107.5" font-size="20.3" text-anchor="middle">3<tspan dx="5.6" font-size="21" dy="0.6">×</tspan><tspan dx="6.6" dy="-0.6">10</tspan><tspan font-size="14.3" dy="-7.4" dx="0.2">1</tspan></text>
<text x="724.41" y="1107.5" font-size="20.3" text-anchor="middle">4<tspan dx="5.6" font-size="21" dy="0.6">×</tspan><tspan dx="6.6" dy="-0.6">10</tspan><tspan font-size="14.3" dy="-7.4" dx="0.2">1</tspan></text>
<text x="419.5" y="1140.6" font-size="29.6" text-anchor="middle">Sentence length (N)</text>
<text transform="translate(19.8,830.4) rotate(-90)" x="0" y="0" font-size="29.4" text-anchor="middle">Average parse time (seconds)</text>
</svg></body></html>
